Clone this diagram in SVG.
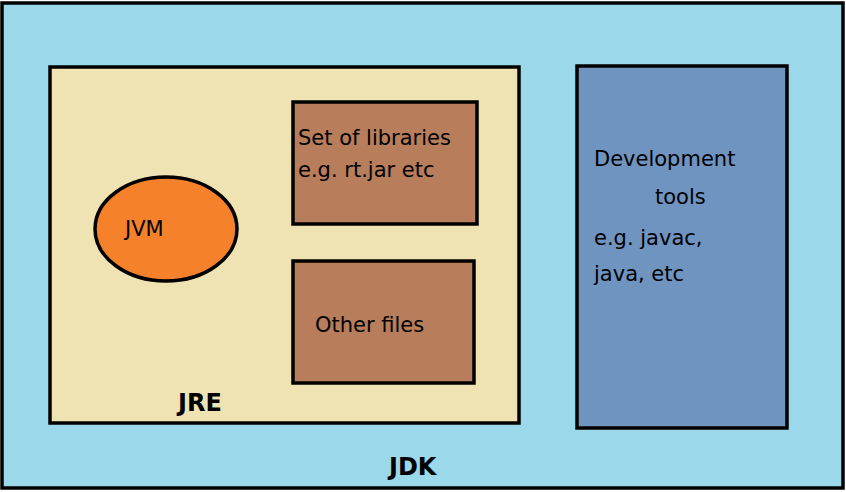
<svg xmlns="http://www.w3.org/2000/svg" width="846" height="492" viewBox="0 0 846 492">
<style>
.b{stroke:#000;stroke-width:3.5}
text{font-family:"DejaVu Sans","Liberation Sans",sans-serif;font-size:21px;fill:#000}
.h{font-weight:bold;font-size:24px}
</style>
<g id="jdk"><rect class="b" x="2" y="3" width="841" height="485" fill="#9bd8e9"/><text class="h" x="389" y="475">JDK</text></g>
<g id="jre"><rect class="b" x="50" y="67" width="469" height="356" fill="#f0e3b3"/><text class="h" x="178" y="411">JRE</text></g>
<g id="jvm"><ellipse class="b" cx="166" cy="229" rx="71" ry="52" fill="#f5822a"/><text x="125" y="236" font-size="23">JVM</text></g>
<g id="libs"><rect class="b" x="293" y="102" width="184" height="122" fill="#b87d5a"/><text x="298" y="145">Set of libraries</text><text x="298" y="177">e.g. rt.jar etc</text></g>
<g id="other"><rect class="b" x="293" y="261" width="181" height="122" fill="#b87d5a"/><text x="315" y="332">Other files</text></g>
<g id="dev"><rect class="b" x="577" y="66" width="210" height="362" fill="#7094c0"/><text x="594" y="166" font-size="23">Development</text><text x="655" y="204" font-size="23">tools</text><text x="594" y="245" font-size="23">e.g. javac,</text><text x="594" y="281" font-size="23">java, etc</text></g>
<g id="connectors"/>
</svg>
